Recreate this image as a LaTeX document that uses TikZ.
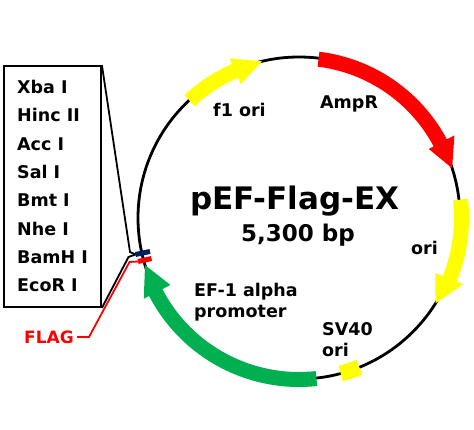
\documentclass[tikz,border=0pt]{standalone}
\usepackage{fontspec}
\setmainfont{DejaVu Sans}
\definecolor{arrowgreen}{RGB}{0,176,80}
\definecolor{sitesblue}{RGB}{0,32,96}
\definecolor{flagred}{RGB}{255,0,0}
\definecolor{markyellow}{RGB}{255,255,0}
\tikzset{
  lbl/.style={font=\bfseries\fontsize{17.5}{20}\selectfont,inner sep=0pt,anchor=base west},
  site/.style={font=\bfseries\fontsize{17.5}{20}\selectfont,inner sep=0pt,anchor=base west},
  wire/.style={line width=1.8pt,line join=miter},
}
% #1 colour, #2 start angle, #3 base angle, #4 tip angle, #5/#6 body radii, #7/#8 barb radii
\newcommand{\plasmidarrow}[8]{%
  \fill[#1] (#2:#6pt) arc[start angle=#2,end angle=#3,radius=#6pt]
    -- (#3:#8pt) -- (#4:161pt) -- (#3:#7pt) -- (#3:#5pt)
    arc[start angle=#3,end angle=#2,radius=#5pt] -- cycle;}
\begin{document}
\begin{tikzpicture}[x=1pt,y=-1pt]
\useasboundingbox (0,0) rectangle (474,430);
% backbone
\node[circle,draw,line width=2.8pt,minimum size=322pt,inner sep=0pt] (ring) at (299,218) {};
\begin{scope}[xshift=299pt,yshift=-218pt,x=1pt,y=1pt]
  \plasmidarrow{flagred}{83}{28}{18}{152.5}{167.5}{147}{176}
  \plasmidarrow{markyellow}{133}{113.5}{103.3}{153}{168}{146}{174}
  \plasmidarrow{markyellow}{6.5}{-22}{-32}{155}{170}{147}{177}
  \plasmidarrow{arrowgreen}{-83.8}{-152.5}{-163}{154}{169}{145}{175}
  \fill[markyellow] (-68:153pt) arc[start angle=-68,end angle=-75,radius=153pt]
    -- (-75:169pt) arc[start angle=-75,end angle=-68,radius=169pt] -- cycle;
\end{scope}
% site list box
\node[draw,line width=1.8pt,minimum width=97pt,minimum height=241pt,inner sep=0pt] (box) at (52.5,186.5) {};
\node[site] (s1) at (17,94) {Xba I};
\node[site] (s2) at (17,122) {Hinc II};
\node[site] (s3) at (17,151) {Acc I};
\node[site] (s4) at (17,179) {Sal I};
\node[site] (s5) at (17,207) {Bmt I};
\node[site] (s6) at (17,236) {Nhe I};
\node[site] (s7) at (17,264) {BamH I};
\node[site] (s8) at (17,292) {EcoR I};
% marks on the ring
\draw[sitesblue,line width=5pt] (135.5,254.5) coordinate (bl) -- (150,251.5) coordinate (br);
\draw[flagred,line width=5pt] (138,261.5) coordinate (rl) -- (151.5,258.5) coordinate (rr);
% connectors
\coordinate (k1) at (130,252);
\coordinate (k2) at (128.5,257);
\coordinate (k3) at (129.5,262);
\coordinate (k4) at (89,337);
\coordinate (k5) at (77,337);
\draw[wire] (box.north east) -- (k1) -- (bl);
\draw[wire] (box.south east) -- (k2) -- (bl);
\node[font=\bfseries\fontsize{17}{20}\selectfont,text=flagred,inner sep=0pt,anchor=base west] (flag) at (24,344) {FLAG};
\draw[flagred,wire] (k5) -- (k4) -- (k3) -- (rl);
% labels
\node[font=\bfseries\fontsize{31}{32}\selectfont,inner sep=0pt] (title) at (295,201) {pEF-Flag-EX};
\node[font=\bfseries\fontsize{23}{24}\selectfont,inner sep=0pt] (size) at (298,235) {5,300 bp};
\node[lbl] (f1) at (213,117) {f1 ori};
\node[lbl] (amp) at (320,109) {AmpR};
\node[lbl] (ori) at (411,255) {ori};
\node[lbl] (ef1) at (194,297) {EF-1 alpha};
\node[lbl] (ef2) at (194,318) {promoter};
\node[lbl] (sv1) at (322,336) {SV40};
\node[lbl] (sv2) at (322,356) {ori};
\end{tikzpicture}
\end{document}
